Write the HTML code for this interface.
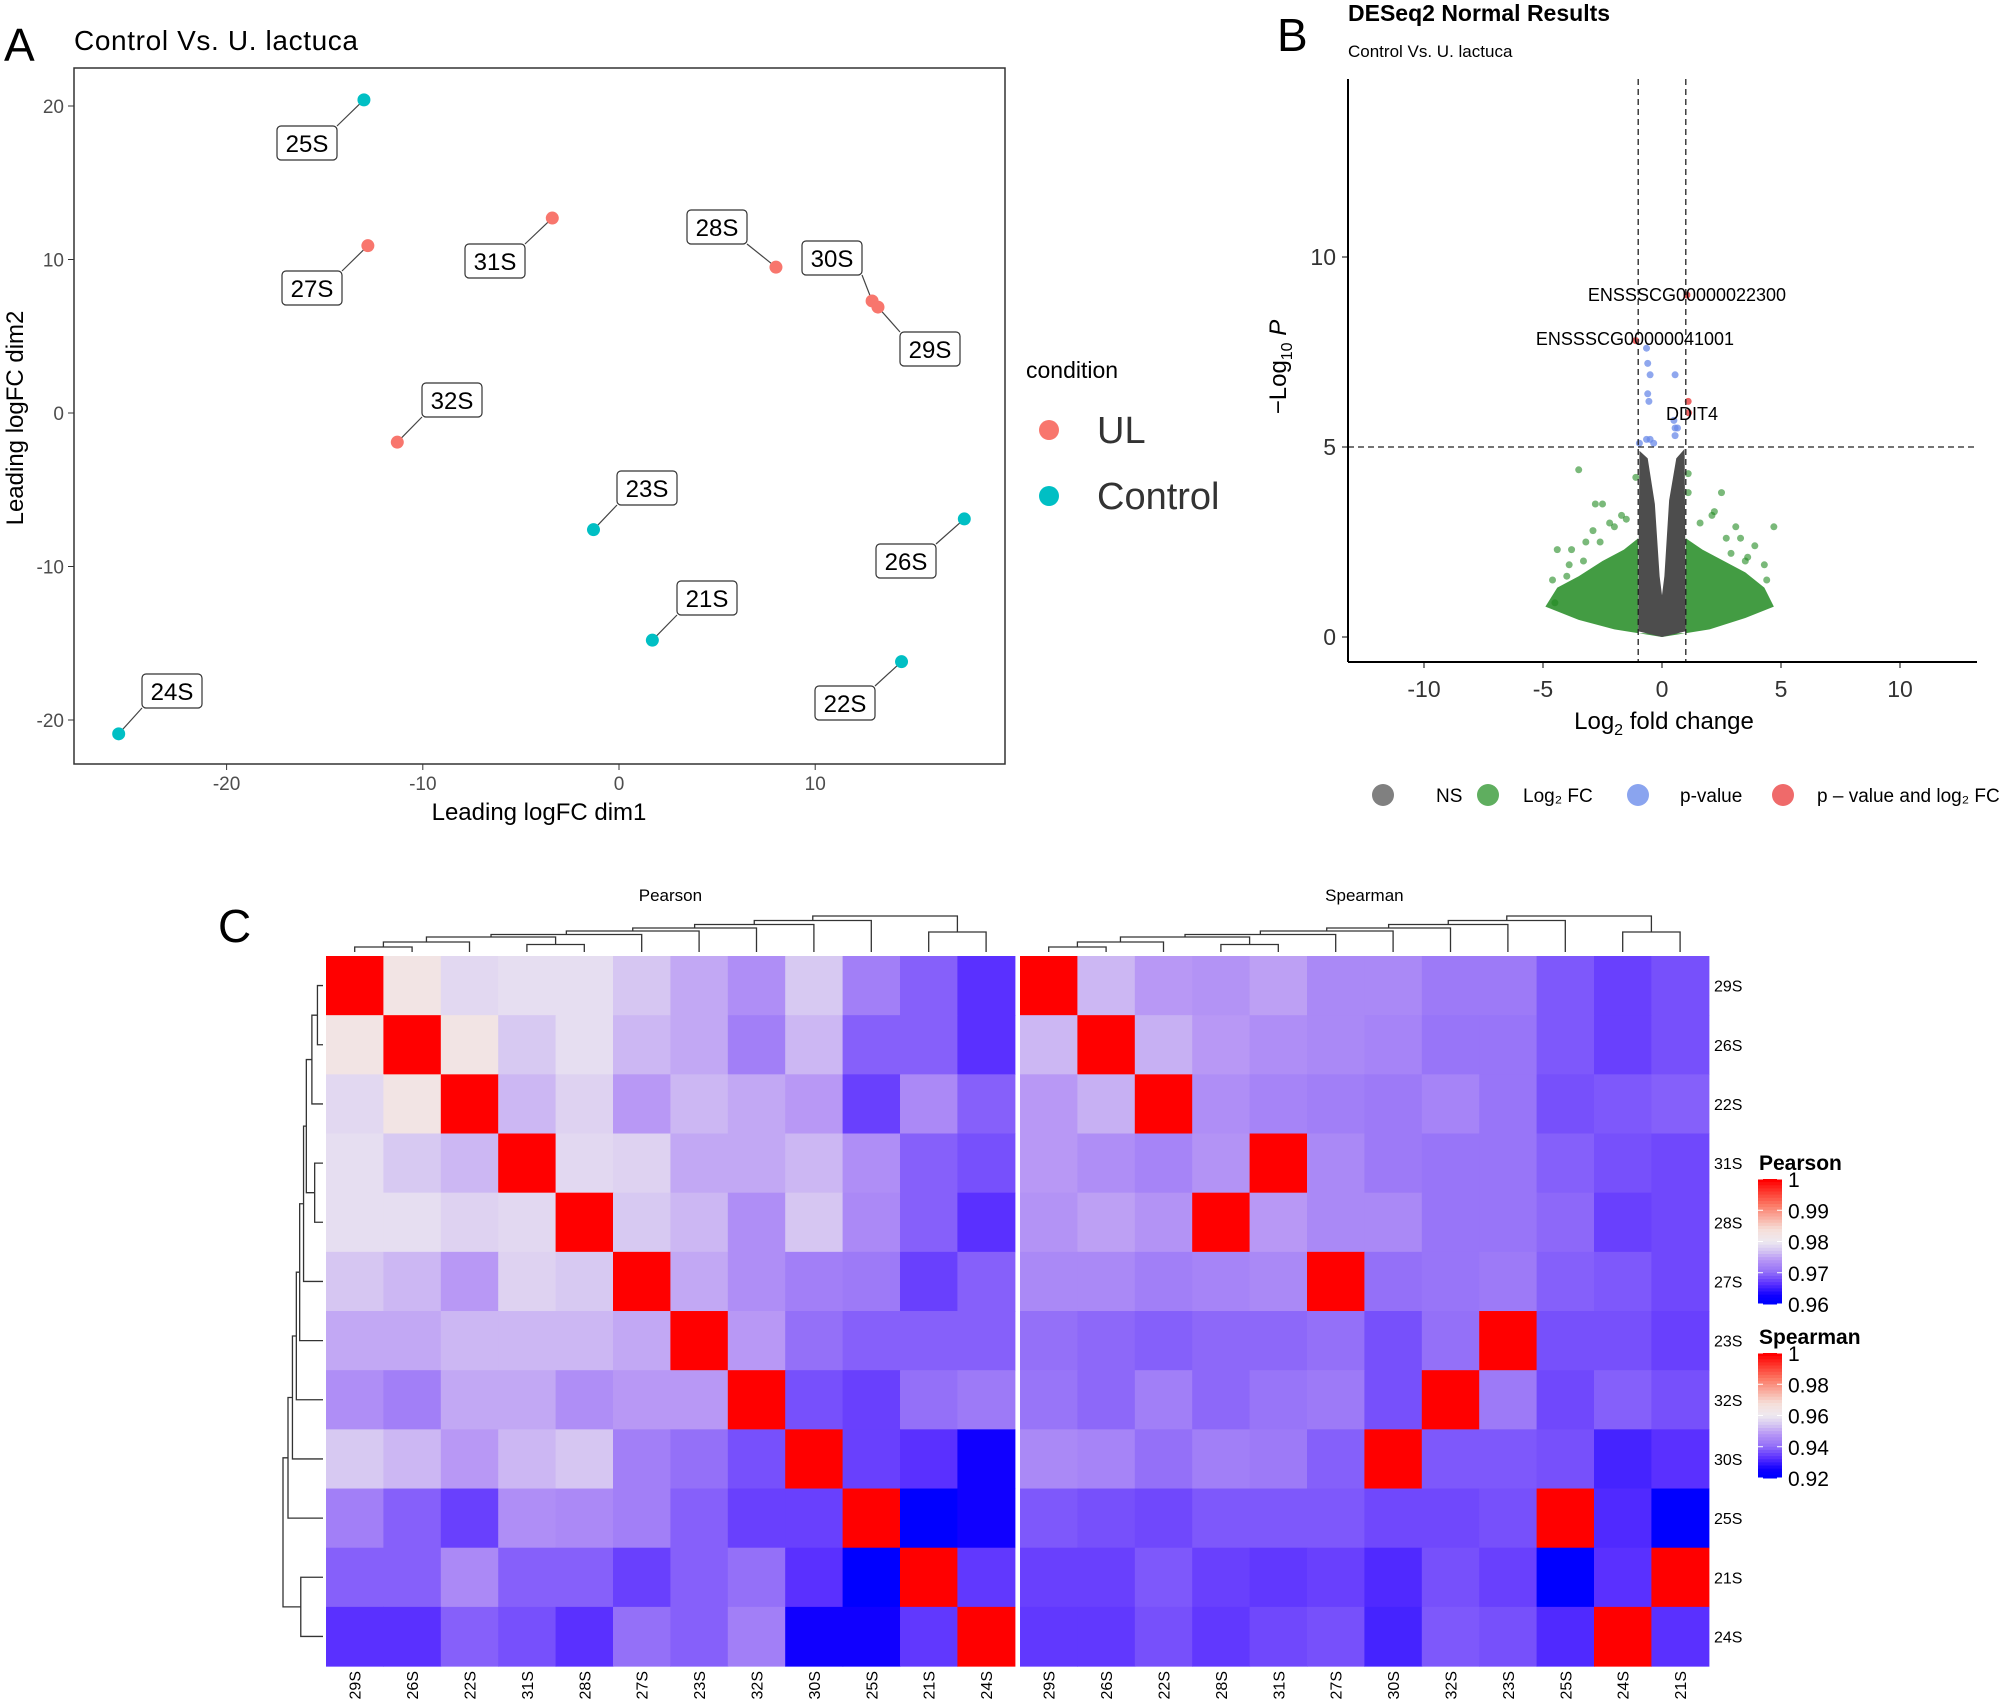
<!DOCTYPE html>
<html><head><meta charset="utf-8"><style>
html,body{margin:0;padding:0;background:#fff;}
svg{display:block;font-family:"Liberation Sans",sans-serif;}
</style></head><body>
<svg id="fig" width="2007" height="1700" viewBox="0 0 2007 1700" xmlns="http://www.w3.org/2000/svg">
<g id="pA"></g>
<g id="pB"></g>
<g id="pC"></g>
</svg>
<script>
// ===== Panel A data =====
const mdsSamples = ["25S","27S","31S","28S","30S","29S","32S","23S","26S","21S","22S","24S"];
const mdsDim1 = [-13, -12.8, -3.4, 8, 12.9, 13.2, -11.3, -1.3, 17.6, 1.7, 14.4, -25.5];
const mdsDim2 = [20.4, 10.9, 12.7, 9.5, 7.3, 6.9, -1.9, -7.6, -6.9, -14.8, -16.2, -20.9];
const mdsGroup = ["Control","UL","UL","UL","UL","UL","UL","Control","Control","Control","Control","Control"];
const mdsXTicks = [-20,-10,0,10];
const mdsYTicks = [-20,-10,0,10,20];
// ===== Panel B data =====
const volXTicks = [-10,-5,0,5,10];
const volYTicks = [0,5,10];
const pvalFC = [-0.65,-0.6,-0.5,-0.6,-0.55,0.55,0.5,0.55,0.65,0.55,-0.65,-0.5,-0.35,-0.95];
const pvalLogP = [7.6,7.2,6.9,6.4,6.2,6.9,5.7,5.5,5.5,5.3,5.2,5.2,5.1,5.1];
const bothFC = [1.1,1.12,-1.1,1.05];
const bothLogP = [6.2,5.9,7.8,9.0];
const fcFC = [-3.5,-2.8,-2.5,-1.7,-4.4,-4.5,2.5,2.2,3.1,4.7,4.3,3.9,1.1,1.1,-1.1,-3.2,-2.2,2.7,-3.9,3.6,-3.8,-3.3,-2.6,-2.0,2.1,2.9,3.5,4.4,-4.6,-4.0,-1.5,1.6,-2.9,3.3];
const fcLogP = [4.4,3.5,3.5,3.2,2.3,0.9,3.8,3.3,2.9,2.9,1.9,2.4,4.3,3.8,4.2,2.5,3.0,2.6,1.9,2.1,2.3,2.0,2.5,2.9,3.2,2.2,2.0,1.5,1.5,1.6,3.1,3.0,2.8,2.6];
// ===== Panel C data =====
const rowSamples = ["29S","26S","22S","31S","28S","27S","23S","32S","30S","25S","21S","24S"];
const pearsonCols = ["29S","26S","22S","31S","28S","27S","23S","32S","30S","25S","21S","24S"];
const spearmanCols = ["29S","26S","22S","28S","31S","27S","30S","32S","23S","25S","24S","21S"];
const pearson = [
[1,.982,.9785,.979,.979,.977,.975,.973,.9772,.9715,.969,.966],
[.982,1,.982,.9772,.979,.976,.975,.9715,.976,.969,.969,.966],
[.9785,.982,1,.976,.978,.974,.976,.975,.974,.967,.9725,.969],
[.979,.9772,.976,1,.9785,.978,.975,.975,.976,.973,.969,.968],
[.979,.979,.978,.9785,1,.9772,.976,.973,.977,.9725,.969,.966],
[.977,.976,.974,.978,.9772,1,.975,.973,.9715,.971,.967,.969],
[.975,.975,.976,.976,.976,.975,1,.974,.970,.969,.969,.969],
[.973,.9715,.975,.975,.973,.974,.974,1,.968,.967,.970,.971],
[.9772,.976,.974,.976,.977,.9715,.970,.968,1,.967,.966,.9624],
[.9715,.969,.967,.973,.9725,.9715,.969,.967,.967,1,.960,.9624],
[.969,.969,.9725,.969,.969,.967,.969,.970,.966,.960,1,.9665],
[.966,.966,.969,.968,.966,.970,.969,.9715,.9624,.9624,.9665,1]];
const spearman = [
[1,.952,.948,.947,.949,.945,.945,.942,.942,.937,.934,.936],
[.952,1,.951,.948,.946,.945,.944,.941,.941,.937,.934,.936],
[.948,.951,1,.946,.944,.943,.942,.944,.941,.936,.937,.938],
[.948,.946,.944,.947,1,.945,.942,.941,.941,.938,.936,.935],
[.947,.949,.947,1,.948,.945,.945,.941,.941,.939,.934,.935],
[.945,.945,.943,.944,.945,1,.940,.941,.942,.938,.937,.935],
[.940,.939,.938,.939,.939,.940,.936,.940,1,.936,.936,.934],
[.941,.939,.943,.939,.941,.942,.936,1,.942,.935,.938,.936],
[.945,.944,.940,.943,.942,.938,1,.937,.937,.936,.930,.932],
[.937,.936,.935,.937,.937,.937,.935,.935,.936,1,.931,.920],
[.934,.934,.937,.934,.933,.934,.931,.936,.934,.920,.932,1],
[.933,.933,.936,.933,.935,.936,.930,.937,.936,.931,1,.932]];
const pearsonLegend = [1,0.99,0.98,0.97,0.96];
const spearmanLegend = [1,0.98,0.96,0.94,0.92];

const NS="http://www.w3.org/2000/svg";
function mk(parent, tag, attrs, text){
  const e=document.createElementNS(NS,tag);
  for(const k in attrs) e.setAttribute(k,attrs[k]);
  if(text!==undefined) e.textContent=text;
  parent.appendChild(e); return e;
}
// ---------- Panel A ----------
const pA=document.getElementById('pA');
const ax=v=>619+v*19.62, ay=v=>413-v*15.35;
let t;
t=mk(pA,'text',{x:4,y:61,'font-size':46,fill:'#000'},'A');


t=mk(pA,'text',{x:74,y:50,'font-size':28,fill:'#000',textLength:284},'Control Vs. U. lactuca');


t=mk(pA,'rect',{x:74,y:68,width:931,height:696,fill:'none',stroke:'#333','stroke-width':1.5});


mdsXTicks.forEach(v=>{
  mk(pA,'line',{x1:ax(v),x2:ax(v),y1:764,y2:770,stroke:'#333'});
  t=mk(pA,'text',{x:ax(v),y:790,'font-size':19,fill:'#4d4d4d','text-anchor':'middle'},v);
  
  
});
mdsYTicks.forEach(v=>{
  mk(pA,'line',{x1:68,x2:74,y1:ay(v),y2:ay(v),stroke:'#333'});
  t=mk(pA,'text',{x:64,y:ay(v)+7,'font-size':19,fill:'#4d4d4d','text-anchor':'end'},v);
  
  
});
t=mk(pA,'text',{x:539,y:820,'font-size':24,fill:'#000','text-anchor':'middle'},'Leading logFC dim1');


t=mk(pA,'text',{x:0,y:0,'font-size':24,fill:'#000','text-anchor':'middle',transform:'translate(23,418) rotate(-90)'},'Leading logFC dim2');


const labPos={"25S":[307,143],"27S":[312,288],"31S":[495,261],"28S":[717,227],"30S":[832,258],"29S":[930,349],"32S":[452,400],"23S":[647,488],"26S":[906,561],"21S":[707,598],"22S":[845,703],"24S":[172,691]};
mdsSamples.forEach((s,i)=>{
  const px=ax(mdsDim1[i]), py=ay(mdsDim2[i]);
  const col=mdsGroup[i]==="UL"?"#F8766D":"#00BFC4";
  const [lx,ly]=labPos[s];
  const dx=lx-px, dy=ly-py;
  const ex=lx-Math.sign(dx)*Math.min(30,Math.abs(dx)), ey=ly-Math.sign(dy)*Math.min(17,Math.abs(dy));
  mk(pA,'line',{x1:px,y1:py,x2:ex,y2:ey,stroke:'#444','stroke-width':1.2});
  const g=mk(pA,'g',{});
  
  
  mk(g,'rect',{x:lx-30,y:ly-17,width:60,height:34,rx:4,fill:'#fff',stroke:'#333','stroke-width':1.2});
  mk(g,'text',{x:lx,y:ly+9,'font-size':24,'text-anchor':'middle',fill:'#000'},s);
  const c=mk(pA,'circle',{cx:px,cy:py,r:6.5,fill:col});
  
  
});
t=mk(pA,'text',{x:1026,y:378,'font-size':23,fill:'#000'},'condition');


[["UL","#F8766D",430],["Control","#00BFC4",496]].forEach(([n,c,y])=>{
  const g=mk(pA,'g',{});
  
  
  mk(g,'circle',{cx:1049,cy:y,r:10,fill:c});
  mk(g,'text',{x:1097,y:y+13,'font-size':38,fill:'#333'},n);
});
// ---------- Panel B ----------
const pB=document.getElementById('pB');
const bx=v=>1662+v*23.8, by=v=>637-v*38;
t=mk(pB,'text',{x:1277,y:51,'font-size':46,fill:'#000'},'B');


t=mk(pB,'text',{x:1348,y:21,'font-size':23,'font-weight':'bold',fill:'#000'},'DESeq2 Normal Results');


t=mk(pB,'text',{x:1348,y:57,'font-size':17,fill:'#000'},'Control Vs. U. lactuca');


let gp="";
[[-4.9,0.8],[-4.4,1.3],[-3.5,1.6],[-2.5,2.0],[-1.6,2.3],[-1,2.6],[-1,0.1],[1,0.1],[1,2.6],[1.7,2.3],[2.6,2.0],[3.5,1.7],[4.3,1.3],[4.7,0.8],[3.5,0.5],[2,0.2],[0,0.0],[-2,0.2],[-3.5,0.45]].forEach((p,i)=>{gp+=(i?"L":"M")+bx(p[0])+","+by(p[1]);});
t=mk(pB,'path',{d:gp+"Z",fill:'#228B22','fill-opacity':0.85});


let vp="";
[[-1,0.15],[-0.95,4.9],[-0.6,4.7],[-0.3,3.5],[-0.1,1.6],[0,1.1],[0.1,1.6],[0.3,3.6],[0.6,4.7],[0.95,4.95],[1,0.15],[0,0.0]].forEach((p,i)=>{vp+=(i?"L":"M")+bx(p[0])+","+by(p[1]);});
t=mk(pB,'path',{d:vp+"Z",fill:'#4d4d4d'});


fcFC.forEach((v,i)=>{const c=mk(pB,'circle',{cx:bx(v),cy:by(fcLogP[i]),r:3.5,fill:'#228B22','fill-opacity':0.6});

});
pvalFC.forEach((v,i)=>{const c=mk(pB,'circle',{cx:bx(v),cy:by(pvalLogP[i]),r:3.5,fill:'#6a8ae8','fill-opacity':0.75});

});
bothFC.forEach((v,i)=>{const c=mk(pB,'circle',{cx:bx(v),cy:by(bothLogP[i]),r:3.5,fill:'#e83030','fill-opacity':0.75});

});
[-1,1].forEach(v=>mk(pB,'line',{x1:bx(v),x2:bx(v),y1:79,y2:662,stroke:'#222','stroke-dasharray':'6,4','stroke-width':1.3}));
mk(pB,'line',{x1:1348,x2:1977,y1:by(5),y2:by(5),stroke:'#222','stroke-dasharray':'6,4','stroke-width':1.3});
mk(pB,'line',{x1:1348,x2:1348,y1:79,y2:662,stroke:'#000','stroke-width':2});
mk(pB,'line',{x1:1348,x2:1977,y1:662,y2:662,stroke:'#000','stroke-width':2});
volXTicks.forEach(v=>{
  mk(pB,'line',{x1:bx(v),x2:bx(v),y1:662,y2:668,stroke:'#000'});
  t=mk(pB,'text',{x:bx(v),y:697,'font-size':23,fill:'#333','text-anchor':'middle'},v);
  
  
});
volYTicks.forEach(v=>{
  mk(pB,'line',{x1:1342,x2:1348,y1:by(v),y2:by(v),stroke:'#000'});
  t=mk(pB,'text',{x:1336,y:by(v)+8,'font-size':23,fill:'#333','text-anchor':'end'},v);
  
  
});
t=mk(pB,'text',{x:1664,y:729,'font-size':24,fill:'#000','text-anchor':'middle'});
t.innerHTML='Log<tspan font-size="16" dy="6">2</tspan><tspan dy="-6"> fold change</tspan>';


t=mk(pB,'text',{x:0,y:0,'font-size':24,fill:'#000','text-anchor':'middle',transform:'translate(1286,367) rotate(-90)'});
t.innerHTML='−Log<tspan font-size="16" dy="6">10</tspan><tspan dy="-6" font-style="italic"> P</tspan>';


[["ENSSSCG00000022300",1687,301],["ENSSSCG00000041001",1635,345],["DDIT4",1692,420]].forEach(([s,x,y])=>{
  const e=mk(pB,'text',{x:x,y:y,'font-size':18,fill:'#000','text-anchor':'middle'},s);
  
  
});
[["NS","#808080",1383,1436],["Log₂ FC","#5fae5f",1488,1523],["p-value","#8aa4ef",1638,1680],["p – value and log₂ FC","#ef6a6a",1783,1817]].forEach(([n,c,cx,tx])=>{
  const g=mk(pB,'g',{});
  
  
  mk(g,'circle',{cx:cx,cy:795,r:11,fill:c});
  mk(g,'text',{x:tx,y:802,'font-size':19,fill:'#000'},n);
});
// ---------- Panel C ----------
const pC=document.getElementById('pC');
t=mk(pC,'text',{x:218,y:942,'font-size':46,fill:'#000'},'C');


const stops=[[0,[0,0,255]],[0.06,[16,0,255]],[0.15,[90,48,255]],[0.25,[148,112,248]],[0.35,[184,152,245]],[0.42,[212,196,242]],[0.5,[238,234,240]],[0.6,[246,222,216]],[0.8,[252,120,100]],[1,[255,0,0]]];
function col(u){u=Math.max(0,Math.min(1,u));
  for(let i=1;i<stops.length;i++){if(u<=stops[i][0]){const a=stops[i-1],b=stops[i],f=(u-a[0])/(b[0]-a[0]);
    return 'rgb('+a[1].map((c,k)=>Math.round(c+(b[1][k]-c)*f)).join(',')+')';}}return 'rgb(255,0,0)';}
const H0=956,CH=59.17,CW=57.4;
function heat(mat,cols,x0,lo,name,title){
  const g=mk(pC,'g',{});
  
  
  mat.forEach((row,r)=>row.forEach((v,c)=>{
    const e=mk(g,'rect',{x:x0+c*CW,y:H0+r*CH,width:CW+0.6,height:CH+0.6,fill:col((v-lo)/(1-lo))});
    
    
  }));
  cols.forEach((s,c)=>{
    const e=mk(pC,'text',{x:0,y:0,'font-size':16,fill:'#000','text-anchor':'end',transform:`translate(${x0+c*CW+CW/2+6},1671) rotate(-90)`},s);
    
    
  });
  const e=mk(pC,'text',{x:x0+6*CW,y:901,'font-size':17,fill:'#000','text-anchor':'middle'},title);
  
  
}
heat(pearson,pearsonCols,326,0.96,'pearson-heatmap','Pearson');
heat(spearman,spearmanCols,1020,0.92,'spearman-heatmap','Spearman');
rowSamples.forEach((s,r)=>{
  const e=mk(pC,'text',{x:1714,y:H0+r*CH+CH/2+6,'font-size':16,fill:'#000'},s);
  
  
});
const merges=[[0,1,1],[12,2,2],[3,4,1.5],[13,14,3],[15,5,3.5],[16,6,4.2],[17,7,4.8],[18,8,5.5],[19,9,6.3],[10,11,4],[20,21,7.2]];
function dendro(vertical,base,span,pos0,step,name){
  const g=mk(pC,'g',{});
  
  
  const P=[],Hh=[];for(let i=0;i<12;i++){P.push(pos0+i*step+step/2);Hh.push(0);}
  const s=span/7.2;
  merges.forEach(([a,b,h])=>{
    const pa=P[a],pb=P[b],ha=Hh[a],hb=Hh[b];
    let d;
    if(vertical){ d=`M${pa},${base-ha*s}V${base-h*s}H${pb}V${base-hb*s}`; }
    else{ d=`M${base-ha*s},${pa}H${base-h*s}V${pb}H${base-hb*s}`;}
    mk(g,'path',{d:d,fill:'none',stroke:'#333','stroke-width':1.3});
    P.push((pa+pb)/2);Hh.push(h);
  });
}
dendro(false,323,40,H0,CH,'row-dendrogram');
dendro(true,952,36,326,CW,'pearson-column-dendrogram');
dendro(true,952,36,1020,CW,'spearman-column-dendrogram');
function legend(y0,title,labels,lo,name){
  const g=mk(pC,'g',{});
  
  
  mk(g,'text',{x:1759,y:y0,'font-size':21,'font-weight':'bold',fill:'#000'},title);
  const top=y0+9,h=125,n=40;
  for(let i=0;i<n;i++){mk(g,'rect',{x:1758,y:top+i*h/n,width:24,height:h/n+0.5,fill:col(1-i/(n-1))});}
  labels.forEach(v=>{
    const yy=top+(1-v)/(1-lo)*h;
    mk(g,'line',{x1:1758,x2:1763,y1:yy,y2:yy,stroke:'#fff'});
    mk(g,'line',{x1:1777,x2:1782,y1:yy,y2:yy,stroke:'#fff'});
    mk(g,'text',{x:1788,y:yy+8,'font-size':21,fill:'#000'},v);
  });
}
legend(1170,'Pearson',pearsonLegend,0.96,'pearson-color-legend');
legend(1344,'Spearman',spearmanLegend,0.92,'spearman-color-legend');
</script>
</body></html>
